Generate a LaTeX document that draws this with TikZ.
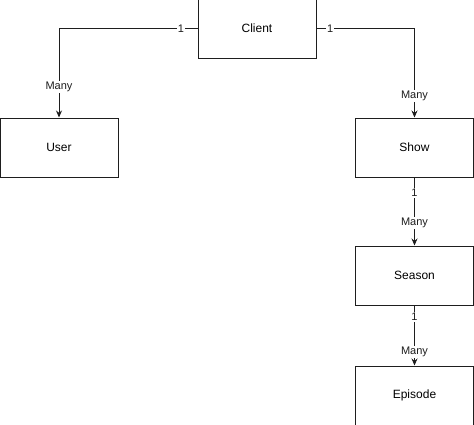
\documentclass[tikz,border=0pt]{standalone}
\usepackage{fontspec}
\setmainfont{Liberation Sans}
\usetikzlibrary{arrows.meta,positioning}
\definecolor{erLine}{RGB}{30,30,30}

\begin{document}
\begin{tikzpicture}[
    x=1pt, y=-1pt,
    entity/.style={draw=erLine, line width=1pt, fill=white, align=center, minimum width=118pt, minimum height=59pt, inner sep=0pt, font=\fontsize{12}{14}\selectfont},
    link/.style={-{Stealth[length=7pt,width=6pt]}, line width=1pt, erLine},
    card/.style={fill=white, inner sep=1pt, font=\fontsize{11}{13}\selectfont}
  ]
    \useasboundingbox (0,0) rectangle (474,424);
    \node[entity] (client) at (257,28.5) {Client};
    \node[entity] (user) at (59,147.5) {User};
    \node[entity] (show) at (414.5,147.5) {Show};
    \node[entity] (season) at (414.5,275.5) {Season};
    \node[entity] (episode) at (414.5,395.5) {Episode};
    \draw[link] (client.west) -| node[card, pos=0.06] {1} node[card, pos=0.83] {Many} (user.north);
    \draw[link] (client.east) -| node[card, pos=0.07] {1} node[card, pos=0.88] {Many} (show.north);
    \draw[link] (show) -- node[card, pos=0.23] {1} node[card, pos=0.67] {Many} (season);
    \draw[link] (season) -- node[card, pos=0.19] {1} node[card, pos=0.78] {Many} (episode);
  \end{tikzpicture}
\end{document}
